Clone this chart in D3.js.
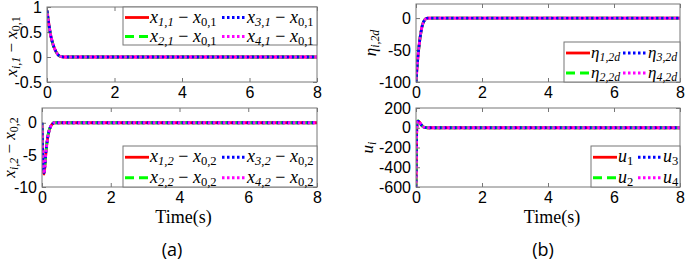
<!DOCTYPE html>
<html>
<head>
<meta charset="utf-8">
<script src="https://d3js.org/d3.v7.min.js"></script>
<style>
  body { margin: 0; background: #fff; }
  svg { display: block; }
  .tick text { font-family: "Liberation Sans", Arial, sans-serif; }
  .math { font-family: "Liberation Serif", "Times New Roman", serif; }
  .cap { font-family: "Open Sans", "Noto Sans", sans-serif; }
</style>
</head>
<body>
<svg id="chart" width="685" height="260"></svg>
<script>
// time samples (s)
var timeA = [0, 0.05, 0.1, 0.15, 0.2, 0.25, 0.3, 0.35, 0.4, 0.5, 1, 2, 4, 8];
var timeB = [0, 0.01, 0.02, 0.035, 0.06, 0.1, 0.15, 0.2, 0.25, 0.3, 0.35, 0.5, 1, 8];

// (a) top: x_{i,1} - x_{0,1}
var errX1 = [
  [0.93, 0.68, 0.46, 0.32, 0.21, 0.13, 0.07, 0.03, 0.01, 0, 0, 0, 0, 0],
  [0.92, 0.67, 0.46, 0.31, 0.2, 0.12, 0.07, 0.03, 0.01, 0, 0, 0, 0, 0],
  [0.93, 0.68, 0.47, 0.32, 0.21, 0.13, 0.07, 0.03, 0.01, 0, 0, 0, 0, 0],
  [0.92, 0.68, 0.46, 0.32, 0.21, 0.13, 0.07, 0.03, 0.01, 0, 0, 0, 0, 0]
];
// (a) bottom: x_{i,2} - x_{0,2}
var timeA2 = [0, 0.02, 0.04, 0.06, 0.08, 0.1, 0.13, 0.16, 0.2, 0.25, 0.3, 0.35, 0.5, 8];
var errX2 = [
  [0, -5.2, -7.6, -8.0, -7.1, -5.6, -3.8, -2.5, -1.4, -0.6, -0.2, 0, 0, 0],
  [0, -4.8, -7.2, -7.6, -6.9, -5.4, -3.7, -2.4, -1.3, -0.6, -0.2, 0, 0, 0],
  [0, -5.0, -7.4, -7.8, -7.0, -5.5, -3.8, -2.5, -1.4, -0.6, -0.2, 0, 0, 0],
  [0, -5.1, -7.5, -7.9, -7.0, -5.5, -3.8, -2.5, -1.4, -0.6, -0.2, 0, 0, 0]
];
// (b) top: eta_{i,2d}
var timeB1 = [0, 0.03, 0.06, 0.1, 0.15, 0.2, 0.25, 0.3, 0.35, 0.5, 1, 8];
var eta = [
  [-100, -78, -60, -40, -22, -10, -4, -1, 0, 0, 0, 0],
  [-100, -78, -60, -40, -22, -10, -4, -1, 0, 0, 0, 0],
  [-100, -78, -60, -40, -22, -10, -4, -1, 0, 0, 0, 0],
  [-100, -78, -60, -40, -22, -10, -4, -1, 0, 0, 0, 0]
];
// (b) bottom: u_i
var ctrl = [
  [-600, -300, -50, 50, 68, 58, 34, 15, 5, 1, 0, 0, 0, 0],
  [-580, -290, -45, 52, 70, 60, 35, 15, 5, 1, 0, 0, 0, 0],
  [-600, -300, -50, 50, 68, 58, 34, 15, 5, 1, 0, 0, 0, 0],
  [-590, -295, -48, 51, 69, 59, 34, 15, 5, 1, 0, 0, 0, 0]
];

var xTicks = [0, 2, 4, 6, 8];
var colors = ["#ff0000", "#00ff00", "#0000ff", "#ff00ff"];
var dashes = [null, "9,5", "2.5,2.5", "2.5,2.5"];

var svg = d3.select("#chart");
var axisColor = "#777";

// math text helper: parts = [text, kind] kind: i italic, r roman, s sub italic, sr sub roman
function mathText(sel, parts, size) {
  parts.forEach(function(p) {
    var t = sel.append("tspan").text(p[0]);
    if (p[1] === "i") t.style("font-style", "italic");
    if (p[1] === "s" || p[1] === "sr") {
      t.style("font-size", (size * 0.7) + "px").attr("baseline-shift", "-25%");
      if (p[1] === "s") t.style("font-style", "italic");
    }
  });
}
function sub(main, s1, s2) {
  return [[main, "i"], [s1, "s"], [" − ", "r"], ["x", "i"], [s2, "sr"]];
}

var panels = [
  { x0: 47, x1: 317, y0: 7, y1: 82, t: timeA, data: errX1, ydom: [-0.5, 1], yticks: [-0.5, 0, 0.5, 1],
    yfmt: String,
    ylab: [["x", "i"], ["i,1", "s"], [" − ", "r"], ["x", "i"], ["0,1", "sr"]], ylx: 17, yoff: 2,
    legend: { x0: 123, y0: 7, x1: 317, y1: 45 }, lfs: 18,
    leg: [sub("x", "1,1", "0,1"), sub("x", "2,1", "0,1"), sub("x", "3,1", "0,1"), sub("x", "4,1", "0,1")], col2: 222 },
  { x0: 42, x1: 317, y0: 108, y1: 187, t: timeA2, data: errX2, ydom: [-10, 2.3], yticks: [-10, -5, 0],
    yfmt: String, xlab: true,
    ylab: [["x", "i"], ["i,2", "s"], [" − ", "r"], ["x", "i"], ["0,2", "sr"]], ylx: 15, yoff: 0,
    legend: { x0: 123, y0: 146, x1: 317, y1: 187 }, lfs: 18,
    leg: [sub("x", "1,2", "0,2"), sub("x", "2,2", "0,2"), sub("x", "3,2", "0,2"), sub("x", "4,2", "0,2")], col2: 222 },
  { x0: 416, x1: 680, y0: 4, y1: 82, t: timeB1, data: eta, ydom: [-100, 22], yticks: [-100, -50, 0],
    yfmt: String,
    ylab: [["η", "i"], ["i,2d", "s"]], ylx: 376, yoff: 0,
    legend: { x0: 564, y0: 42, x1: 680, y1: 82 }, lfs: 17,
    leg: [[["η", "i"], ["1,2d", "s"]], [["η", "i"], ["2,2d", "s"]], [["η", "i"], ["3,2d", "s"]], [["η", "i"], ["4,2d", "s"]]], col2: 623 },
  { x0: 416, x1: 680, y0: 108, y1: 187, t: timeB, data: ctrl, ydom: [-600, 200], yticks: [-600, -400, -200, 0, 200],
    yfmt: String, xlab: true,
    ylab: [["u", "i"], ["i", "s"]], ylx: 373, yoff: 0,
    legend: { x0: 591, y0: 146, x1: 680, y1: 187 }, lfs: 18,
    leg: [[["u", "i"], ["1", "sr"]], [["u", "i"], ["2", "sr"]], [["u", "i"], ["3", "sr"]], [["u", "i"], ["4", "sr"]]], col2: 638 }
];

panels.forEach(function(p, pi) {
  var x = d3.scaleLinear().domain([0, 8]).range([p.x0, p.x1]);
  var y = d3.scaleLinear().domain(p.ydom).range([p.y1, p.y0]);
  var g = svg.append("g");

  var clipId = "clip" + pi;
  svg.append("clipPath").attr("id", clipId).append("rect")
    .attr("x", p.x0).attr("y", p.y0).attr("width", p.x1 - p.x0).attr("height", p.y1 - p.y0);

  // axes, ticks pointing inward on all four sides
  var xb = g.append("g").attr("transform", "translate(0," + p.y1 + ")")
    .call(d3.axisBottom(x).tickValues(xTicks).tickSize(-4).tickPadding(5).tickFormat(d3.format("d")));
  var xt = g.append("g").attr("transform", "translate(0," + p.y0 + ")")
    .call(d3.axisTop(x).tickValues(xTicks).tickSize(-4).tickFormat(""));
  var yl = g.append("g").attr("transform", "translate(" + p.x0 + ",0)")
    .call(d3.axisLeft(y).tickValues(p.yticks).tickSize(-4).tickPadding(5).tickFormat(p.yfmt));
  var yr = g.append("g").attr("transform", "translate(" + p.x1 + ",0)")
    .call(d3.axisRight(y).tickValues(p.yticks).tickSize(-4).tickFormat(""));
  [xb, xt, yl, yr].forEach(function(a) {
    a.select(".domain").remove();
    a.attr("font-family", null);
    a.selectAll(".tick line").attr("stroke", axisColor);
    a.selectAll(".tick text").attr("font-size", 16).attr("fill", "#000");
  });

  // lines
  var plot = g.append("g").attr("clip-path", "url(#" + clipId + ")");
  var line = d3.line().x(function(d, i) { return x(p.t[i]); }).y(function(d) { return y(d); })
    .curve(d3.curveMonotoneX);
  p.data.forEach(function(s, k) {
    plot.append("path").attr("d", line(s)).attr("fill", "none")
      .attr("stroke", colors[k]).attr("stroke-width", 2.8)
      .attr("stroke-dasharray", dashes[k])
      .attr("stroke-dashoffset", k === 3 ? 2.5 : 0);
  });

  g.append("rect").attr("x", p.x0).attr("y", p.y0).attr("width", p.x1 - p.x0).attr("height", p.y1 - p.y0)
    .attr("fill", "none").attr("stroke", axisColor).attr("stroke-width", 1);

  // y label
  var ycen = (p.y0 + p.y1) / 2 + p.yoff;
  var yt = g.append("text").attr("class", "math")
    .attr("transform", "translate(" + p.ylx + "," + ycen + ") rotate(-90)")
    .attr("text-anchor", "middle").style("font-size", "17px");
  mathText(yt, p.ylab, 17);

  if (p.xlab) {
    g.append("text").attr("class", "math").attr("x", (p.x0 + p.x1) / 2 + 4).attr("y", 223)
      .attr("text-anchor", "middle").style("font-size", "18px")
      .text("Time(s)");
  }

  // legend
  var L = p.legend;
  var lg = g.append("g");
  lg.append("rect").attr("x", L.x0).attr("y", L.y0).attr("width", L.x1 - L.x0).attr("height", L.y1 - L.y0)
    .attr("fill", "#fff").attr("stroke", axisColor).attr("stroke-width", 1);
  var rowH = (L.y1 - L.y0) / 2;
  [0, 1, 2, 3].forEach(function(k) {
    var cx = k < 2 ? L.x0 + 2 : p.col2;
    var cy = L.y0 + rowH * (k % 2) + rowH / 2 + 1;
    lg.append("line").attr("x1", cx).attr("x2", cx + 24).attr("y1", cy).attr("y2", cy)
      .attr("stroke", colors[k]).attr("stroke-width", 2.8).attr("stroke-dasharray", dashes[k]);
    var tt = lg.append("text").attr("class", "math").attr("x", cx + 25).attr("y", cy + 5)
      .style("font-size", p.lfs + "px");
    mathText(tt, p.leg[k], p.lfs);
  });
});

// panel captions
[["(a)", 172], ["(b)", 543]].forEach(function(c) {
  svg.append("text").attr("class", "cap").attr("x", c[1]).attr("y", 256).attr("text-anchor", "middle")
    .style("font-size", "18px").text(c[0]);
});
</script>
</body>
</html>
